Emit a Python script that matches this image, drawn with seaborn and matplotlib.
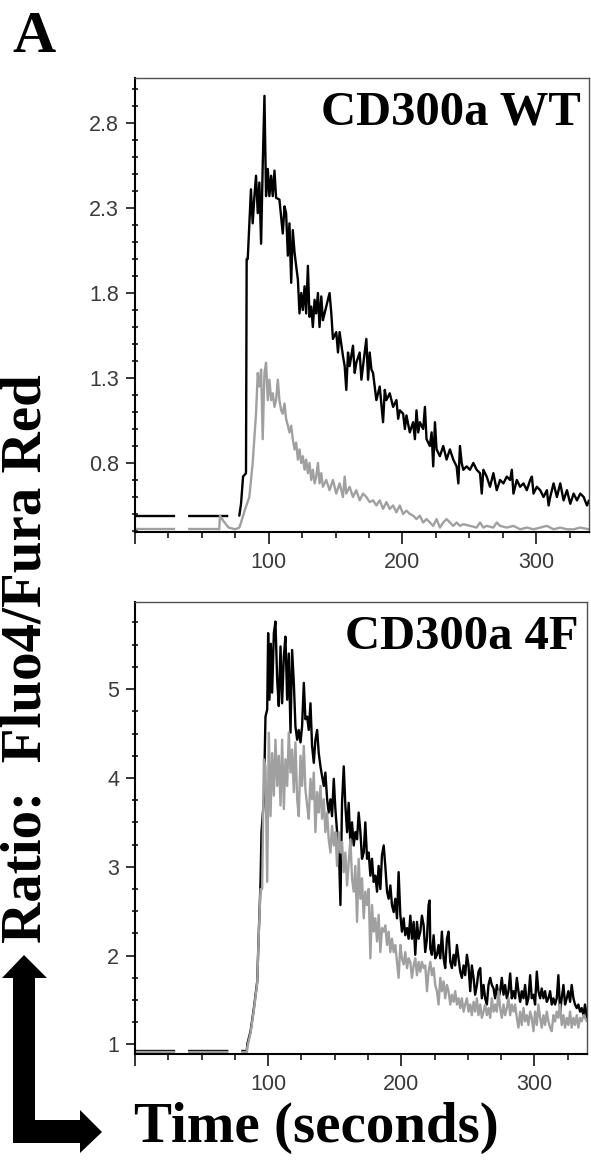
import matplotlib
matplotlib.use('Agg')
import matplotlib.pyplot as plt
from matplotlib.patches import Polygon
import pandas as pd
import seaborn as sns

# ---------------- data ----------------
# CD300a WT: black trace
wt_black_base_t = [0, 78]
wt_black_base_r = [0.49, 0.49]
wt_black_t = [78.0, 79.3, 80.8, 83.0, 83.5, 84.3, 85.5, 86.7, 88.0, 89.3, 90.5, 91.8, 93.0, 94.3,
              95.5, 96.8, 98.0, 99.3, 100.5, 101.8, 103.0, 104.3, 105.5, 108.0, 110.5, 111.8,
              113.0, 114.3, 115.5, 116.8, 118.0, 119.3, 120.5, 121.8, 123.0, 124.3, 125.5,
              126.8, 128.0, 129.3, 130.5, 131.8, 133.0, 134.3, 135.5, 136.8, 138.0, 139.3,
              140.5, 143.0, 145.5, 146.8, 148.0, 150.5, 151.8, 153.0, 155.5, 156.8, 158.0,
              159.3, 160.5, 163.0, 164.3, 165.5, 168.0, 169.3, 170.5, 173.0, 174.3, 175.5,
              176.8, 178.0, 180.5, 183.0, 185.5, 186.8, 188.0, 190.5, 193.0, 195.5, 196.8,
              198.0, 200.5, 201.8, 203.0, 205.5, 208.0, 209.3, 210.5, 211.8, 213.0, 215.5,
              216.8, 218.0, 220.5, 221.8, 223.0, 224.3, 225.5, 228.0, 230.5, 233.0, 235.5,
              238.0, 240.5, 241.8, 243.0, 244.3, 245.5, 248.0, 250.5, 253.0, 255.5, 258.0,
              259.3, 260.5, 263.0, 265.5, 268.0, 270.5, 273.0, 275.5, 278.0, 280.5, 281.8,
              283.0, 285.5, 288.0, 290.5, 293.0, 295.5, 296.8, 298.0, 300.5, 303.0, 305.5,
              308.0, 309.3, 310.5, 313.0, 315.5, 318.0, 320.5, 323.0, 325.5, 328.0, 330.5,
              333.0, 335.5, 338.0, 339.5]
wt_black_r = [0.49, 0.56, 0.72, 0.74, 2.00, 2.00, 2.21, 2.41, 2.21, 2.37, 2.49, 2.27, 2.45, 2.09,
              2.55, 2.96, 2.37, 2.53, 2.37, 2.49, 2.37, 2.52, 2.36, 2.35, 2.15, 2.31,
              2.27, 2.02, 2.21, 1.86, 2.17, 2.04, 1.96, 1.88, 1.68, 1.80, 1.70,
              1.84, 1.68, 1.96, 1.66, 1.72, 1.60, 1.76, 1.68, 1.80, 1.60, 1.78,
              1.64, 1.72, 1.80, 1.68, 1.53, 1.57, 1.45, 1.57, 1.43, 1.37, 1.23,
              1.45, 1.37, 1.49, 1.33, 1.39, 1.45, 1.29, 1.37, 1.53, 1.29, 1.45,
              1.35, 1.33, 1.17, 1.25, 1.04, 1.23, 1.17, 1.21, 1.13, 1.17, 1.06,
              1.11, 1.09, 1.00, 1.08, 0.98, 1.04, 0.94, 1.11, 0.98, 1.04, 1.00,
              1.13, 0.94, 0.90, 0.98, 0.78, 1.04, 0.88, 0.84, 0.90, 0.82, 0.88,
              0.82, 0.78, 0.68, 0.90, 0.80, 0.76, 0.78, 0.76, 0.80, 0.76, 0.74,
              0.62, 0.76, 0.72, 0.66, 0.74, 0.64, 0.70, 0.68, 0.72, 0.70, 0.76,
              0.62, 0.70, 0.66, 0.68, 0.64, 0.70, 0.72, 0.62, 0.66, 0.64, 0.60,
              0.64, 0.55, 0.60, 0.68, 0.60, 0.68, 0.58, 0.64, 0.56, 0.62, 0.58,
              0.62, 0.60, 0.55, 0.58]

# CD300a WT: grey trace
wt_grey_base_t = [0, 63]
wt_grey_base_r = [0.41, 0.41]
wt_grey_t = [63.0, 63.5, 66.0, 70.0, 75.0, 78.0, 79.3, 82.0, 85.5, 88.0, 90.5, 91.8, 93.0, 94.3,
             95.5, 96.8, 98.0, 99.3, 100.5, 101.8, 103.0, 104.3, 105.5, 106.8, 108.0, 109.3,
             110.5, 111.8, 113.0, 114.3, 115.5, 116.8, 118.0, 119.3, 120.5, 121.8, 123.0,
             124.3, 125.5, 126.8, 128.0, 129.3, 130.5, 131.8, 133.0, 134.3, 135.5, 136.8,
             138.0, 139.3, 140.5, 143.0, 145.5, 148.0, 150.5, 153.0, 155.5, 156.8, 158.0,
             160.5, 163.0, 165.5, 168.0, 170.5, 173.0, 175.5, 178.0, 180.5, 183.0, 185.5,
             188.0, 190.5, 193.0, 195.5, 198.0, 200.5, 203.0, 205.5, 208.0, 210.5, 213.0,
             215.5, 218.0, 220.5, 223.0, 225.5, 228.0, 230.5, 233.0, 235.5, 238.0, 240.5,
             243.0, 245.5, 250.5, 255.5, 258.0, 260.5, 263.0, 268.0, 270.5, 273.0, 278.0,
             283.0, 288.0, 293.0, 298.0, 303.0, 308.0, 313.0, 318.0, 323.0, 328.0, 333.0,
             339.5]
wt_grey_r = [0.41, 0.49, 0.46, 0.42, 0.41, 0.42, 0.45, 0.52, 0.60, 0.80, 1.09, 1.33, 1.25, 1.35,
             0.94, 1.33, 1.39, 1.17, 1.29, 1.17, 1.21, 1.13, 1.17, 1.29, 1.17, 1.11,
             1.09, 1.15, 1.06, 1.02, 0.98, 1.02, 0.94, 0.88, 0.92, 0.82, 0.88,
             0.80, 0.84, 0.76, 0.82, 0.74, 0.80, 0.70, 0.76, 0.68, 0.72, 0.80,
             0.68, 0.74, 0.66, 0.70, 0.64, 0.70, 0.62, 0.68, 0.60, 0.72, 0.62,
             0.66, 0.60, 0.64, 0.58, 0.62, 0.60, 0.57, 0.58, 0.55, 0.58, 0.53,
             0.57, 0.53, 0.55, 0.51, 0.55, 0.50, 0.52, 0.50, 0.49, 0.47, 0.49,
             0.45, 0.47, 0.45, 0.43, 0.47, 0.42, 0.45, 0.47, 0.45, 0.43, 0.45,
             0.43, 0.44, 0.43, 0.42, 0.45, 0.42, 0.43, 0.42, 0.45, 0.43, 0.42,
             0.43, 0.41, 0.42, 0.41, 0.42, 0.43, 0.41, 0.42, 0.41, 0.41, 0.42,
             0.41]

# CD300a 4F: black trace
f4_black_base_t = [0, 84]
f4_black_base_r = [0.93, 0.93]
f4_black_t = [84.0, 84.3, 86.8, 89.3, 91.8, 93.0, 94.3, 95.0, 96.8, 98.0, 99.3, 100.0, 101.0,
              102.0, 103.0, 104.3, 105.5, 106.8, 108.0, 109.3, 110.5, 111.8, 113.0, 114.3,
              115.5, 116.8, 118.0, 119.3, 120.5, 121.8, 123.0, 124.3, 125.5, 126.8, 128.0,
              129.3, 130.5, 131.8, 133.0, 134.3, 135.5, 136.8, 138.0, 139.3, 140.5, 141.8,
              143.0, 144.3, 145.5, 146.8, 148.0, 149.3, 150.5, 151.8, 153.0, 154.3, 155.5,
              156.8, 158.0, 159.3, 160.5, 161.8, 163.0, 164.3, 165.5, 166.8, 168.0, 169.3,
              170.5, 171.8, 173.0, 174.3, 175.5, 176.8, 178.0, 179.3, 180.5, 181.8, 183.0,
              184.3, 185.5, 186.8, 188.0, 189.3, 190.5, 191.8, 193.0, 194.3, 195.5, 196.8,
              198.0, 199.3, 200.5, 201.8, 203.0, 204.3, 205.5, 206.8, 208.0, 209.3, 210.5,
              211.8, 213.0, 214.3, 215.5, 216.8, 218.0, 219.3, 220.5, 221.3, 221.8, 223.0,
              224.3, 225.5, 226.8, 228.0, 229.3, 230.5, 231.8, 233.0, 234.3, 235.5, 236.8,
              238.0, 239.3, 240.5, 241.8, 243.0, 244.3, 245.5, 246.8, 248.0, 249.3, 250.5,
              251.8, 253.0, 254.3, 255.5, 256.8, 258.0, 259.3, 260.5, 261.8, 263.0, 264.3,
              265.5, 266.8, 268.0, 269.3, 270.5, 271.8, 273.0, 274.3, 275.5, 276.8, 278.0,
              279.3, 280.5, 281.8, 283.0, 284.3, 285.5, 286.8, 288.0, 289.3, 290.5, 291.8,
              293.0, 294.3, 295.5, 296.8, 298.0, 299.3, 300.5, 301.8, 303.0, 304.3, 305.5,
              306.8, 308.0, 309.3, 310.5, 311.8, 313.0, 314.3, 315.5, 316.8, 318.0, 319.3,
              320.5, 321.8, 323.0, 324.3, 325.5, 326.8, 328.0, 329.3, 330.5, 331.8, 333.0,
              334.3, 335.5, 336.8, 338.0, 339.5]
f4_black_r = [0.93, 1.00, 1.15, 1.41, 1.71, 2.27, 2.83, 3.39, 3.76, 4.69, 4.77, 5.63, 4.88,
              5.51, 4.96, 5.63, 5.76, 5.10, 4.81, 5.48, 4.84, 5.37, 5.59, 4.88,
              5.40, 4.51, 5.44, 5.07, 4.58, 4.43, 4.54, 4.40, 4.58, 5.07, 4.66,
              4.69, 4.54, 4.84, 4.36, 4.17, 4.43, 4.54, 4.28, 4.13, 4.02, 3.91,
              4.06, 3.76, 3.61, 3.76, 3.57, 3.99, 3.65, 3.39, 3.28, 2.57, 3.72,
              4.13, 3.69, 3.39, 3.72, 3.24, 3.50, 3.24, 3.39, 3.31, 3.61, 3.39,
              3.09, 3.16, 3.50, 3.09, 3.16, 2.90, 3.09, 2.83, 2.90, 2.72, 3.01,
              2.75, 3.13, 3.24, 3.01, 2.72, 2.64, 2.79, 2.57, 2.49, 2.64, 2.42,
              2.94, 2.46, 2.27, 2.42, 2.23, 2.31, 2.19, 2.45, 2.19, 2.38, 2.01,
              2.38, 2.19, 2.27, 2.45, 2.34, 2.04, 2.19, 2.57, 2.62, 2.08, 2.01,
              2.23, 1.97, 2.01, 2.12, 1.97, 2.27, 1.97, 1.86, 2.19, 2.27, 1.93,
              1.86, 2.01, 1.89, 2.12, 1.97, 1.82, 1.75, 1.89, 1.78, 2.01, 1.89,
              1.60, 1.89, 1.75, 1.56, 1.67, 1.82, 1.86, 1.52, 1.67, 1.52, 1.45,
              1.67, 1.75, 1.67, 1.63, 1.52, 1.67, 1.52, 1.60, 1.75, 1.56, 1.67,
              1.52, 1.60, 1.80, 1.52, 1.60, 1.52, 1.75, 1.60, 1.48, 1.60, 1.52,
              1.67, 1.45, 1.52, 1.78, 1.52, 1.56, 1.45, 1.82, 1.60, 1.52, 1.63,
              1.52, 1.60, 1.48, 1.52, 1.60, 1.45, 1.52, 1.45, 1.52, 1.78, 1.37,
              1.52, 1.67, 1.45, 1.52, 1.60, 1.48, 1.67, 1.52, 1.45, 1.41, 1.45,
              1.37, 1.41, 1.33, 1.45, 1.30]

# CD300a 4F: grey trace
f4_grey_base_t = [0, 84]
f4_grey_base_r = [0.91, 0.91]
f4_grey_t = [84.0, 84.3, 86.8, 89.3, 91.8, 93.0, 94.3, 95.5, 96.8, 98.0, 99.3, 100.5, 101.8,
             103.0, 104.3, 105.5, 106.8, 108.0, 109.3, 110.5, 111.8, 113.0, 114.3, 115.5,
             116.8, 118.0, 119.3, 120.5, 121.8, 123.0, 124.3, 125.5, 126.8, 128.0, 129.3,
             130.5, 131.8, 133.0, 134.3, 135.5, 136.8, 138.0, 139.3, 140.5, 141.8, 143.0,
             144.3, 145.5, 146.8, 148.0, 149.3, 150.5, 151.8, 153.0, 154.3, 155.5, 156.8,
             158.0, 159.3, 160.5, 161.8, 163.0, 164.3, 165.5, 166.8, 168.0, 169.3, 170.5,
             171.8, 173.0, 174.3, 175.5, 176.8, 178.0, 179.3, 180.5, 181.8, 183.0, 184.3,
             185.5, 186.8, 188.0, 189.3, 190.5, 191.8, 193.0, 194.3, 195.5, 196.8, 198.0,
             199.3, 200.5, 201.8, 203.0, 204.3, 205.5, 206.8, 208.0, 209.3, 210.5, 211.8,
             213.0, 214.3, 215.5, 216.8, 218.0, 219.3, 220.5, 221.8, 223.0, 224.3, 225.5,
             226.8, 228.0, 229.3, 230.5, 231.8, 233.0, 234.3, 235.5, 236.8, 238.0, 239.3,
             240.5, 241.8, 243.0, 244.3, 245.5, 246.8, 248.0, 249.3, 250.5, 251.8, 253.0,
             254.3, 255.5, 256.8, 258.0, 259.3, 260.5, 261.8, 263.0, 264.3, 265.5, 266.8,
             268.0, 269.3, 270.5, 271.8, 273.0, 274.3, 275.5, 276.8, 278.0, 279.3, 280.5,
             281.8, 283.0, 284.3, 285.5, 286.8, 288.0, 289.3, 290.5, 291.8, 293.0, 294.3,
             295.5, 296.8, 298.0, 299.3, 300.5, 301.8, 303.0, 304.3, 305.5, 306.8, 308.0,
             309.3, 310.5, 311.8, 313.0, 314.3, 315.5, 316.8, 318.0, 319.3, 320.5, 321.8,
             323.0, 324.3, 325.5, 326.8, 328.0, 329.3, 330.5, 331.8, 333.0, 334.3, 335.5,
             336.8, 338.0, 339.5]
f4_grey_r = [0.91, 0.97, 1.13, 1.39, 1.69, 2.25, 2.75, 2.75, 4.21, 4.13, 2.83, 4.51, 3.57,
             4.28, 3.80, 4.43, 3.91, 4.25, 3.69, 4.43, 3.65, 4.21, 3.91, 4.51,
             4.06, 4.32, 3.84, 4.40, 3.76, 3.57, 4.25, 3.91, 4.36, 3.87, 3.69,
             3.54, 3.99, 3.76, 4.06, 3.39, 3.84, 3.61, 3.91, 3.54, 3.76, 3.39,
             3.61, 3.31, 3.16, 3.46, 3.24, 3.39, 3.01, 3.39, 3.16, 3.28, 2.94,
             3.16, 2.79, 3.05, 3.31, 2.87, 2.72, 3.01, 2.38, 3.09, 2.64, 2.87,
             2.42, 2.72, 2.57, 2.75, 1.97, 2.57, 2.27, 2.42, 2.16, 2.46, 2.04,
             2.31, 2.27, 2.34, 2.12, 2.27, 2.04, 2.19, 2.04, 2.12, 1.93, 1.75,
             2.12, 1.97, 1.90, 2.04, 1.86, 1.97, 1.93, 1.75, 1.89, 1.97, 1.78,
             1.93, 1.82, 1.93, 1.86, 1.89, 1.60, 1.82, 1.93, 1.78, 1.86, 1.67,
             1.60, 1.45, 1.75, 1.60, 1.71, 1.52, 1.67, 1.60, 1.45, 1.56, 1.48,
             1.60, 1.45, 1.52, 1.41, 1.52, 1.37, 1.45, 1.52, 1.37, 1.45, 1.33,
             1.48, 1.37, 1.52, 1.33, 1.45, 1.30, 1.37, 1.45, 1.33, 1.41, 1.30,
             1.52, 1.37, 1.45, 1.37, 1.60, 1.41, 1.30, 1.45, 1.33, 1.41, 1.52,
             1.33, 1.45, 1.37, 1.45, 1.30, 1.19, 1.37, 1.22, 1.41, 1.26, 1.33,
             1.22, 1.37, 1.30, 1.15, 1.37, 1.22, 1.45, 1.30, 1.19, 1.33, 1.22,
             1.37, 1.26, 1.19, 1.15, 1.33, 1.26, 1.37, 1.30, 1.45, 1.22, 1.33,
             1.19, 1.30, 1.22, 1.37, 1.19, 1.30, 1.22, 1.33, 1.19, 1.30, 1.26,
             1.33, 1.30, 1.26]

panel_titles = ['CD300a WT', 'CD300a 4F']
wt_yticks = [0.8, 1.3, 1.8, 2.3, 2.8]
f4_yticks = [1, 2, 3, 4, 5]
x_ticks = [0, 100, 200, 300]
x_ticklabels = ['', '100', '200', '300']
panel_letter = 'A'
y_label = 'Ratio:  Fluo4/Fura Red'
x_label = 'Time (seconds)'


def long_table(base_t, base_r, t, r, trace):
    pre = pd.DataFrame({'time': base_t, 'ratio': base_r, 'segment': 'baseline'})
    post = pd.DataFrame({'time': t, 'ratio': r, 'segment': 'trace'})
    df = pd.concat([pre, post], ignore_index=True)
    df['trace'] = trace
    return df


df_wt = pd.concat([
    long_table(wt_black_base_t, wt_black_base_r, wt_black_t, wt_black_r, 'black'),
    long_table(wt_grey_base_t, wt_grey_base_r, wt_grey_t, wt_grey_r, 'grey'),
], ignore_index=True)
df_f4 = pd.concat([
    long_table(f4_black_base_t, f4_black_base_r, f4_black_t, f4_black_r, 'black'),
    long_table(f4_grey_base_t, f4_grey_base_r, f4_grey_t, f4_grey_r, 'grey'),
], ignore_index=True)

sns.set_style('white')
plt.rcParams['font.family'] = ['Liberation Sans', 'DejaVu Sans']
plt.rcParams['text.color'] = 'black'

W, H = 591, 1165
fig = plt.figure(figsize=(W / 100, H / 100), dpi=100)
ax1 = fig.add_axes([135 / W, 1 - 532 / H, 454 / W, 454 / H])
ax2 = fig.add_axes([135 / W, 1 - 1054 / H, 452 / W, 452 / H])

palette = {'black': '#000000', 'grey': '#a0a0a0'}
dashes = {'baseline': (17, 5.5), 'trace': ''}

setup = [
    (ax1, df_wt, (0.394, 3.065), wt_yticks, 0.1, panel_titles[0]),
    (ax2, df_f4, (0.893, 5.98), f4_yticks, 0.25, panel_titles[1]),
]

for ax, df, ylim, yticks, ystep, title in setup:
    sns.lineplot(data=df, x='time', y='ratio', hue='trace', style='segment',
                 hue_order=['black', 'grey'], palette=palette, dashes=dashes,
                 estimator=None, lw=1.7, legend=False, ax=ax)
    ax.set_xlim(0, 339.5)
    ax.set_ylim(*ylim)
    ax.set_xlabel('')
    ax.set_ylabel('')

    ax.set_xticks(x_ticks)
    ax.set_xticklabels(x_ticklabels)
    ax.set_xticks([v for v in range(25, 340, 25) if v % 100], minor=True)
    ax.set_yticks(yticks)
    ax.set_yticklabels([f'{v:g}' for v in yticks])
    lo = round(ylim[0] / ystep + 0.5) * ystep
    minors = []
    v = lo
    while v < ylim[1]:
        if min(abs(v - m) for m in yticks) > 1e-6:
            minors.append(round(v, 3))
        v += ystep
    ax.set_yticks(minors, minor=True)

    ax.tick_params(axis='x', which='major', direction='out', length=8.5, width=1.1,
                   color='black', pad=6, labelsize=15.5, labelcolor='#3a3a3a')
    ax.tick_params(axis='x', which='minor', direction='out', length=4.3, width=1.1,
                   color='black')
    ax.tick_params(axis='y', which='major', direction='out', length=6.5, width=1.1,
                   color='black', pad=5, labelsize=15.5, labelcolor='#3a3a3a')
    ax.tick_params(axis='y', which='minor', direction='inout', length=4.5, width=1.1,
                   color='black')
    ax.tick_params(bottom=True, left=True, which='both')

    for side in ['left', 'bottom']:
        ax.spines[side].set_color('black')
        ax.spines[side].set_linewidth(1.5)
    for side in ['top', 'right']:
        ax.spines[side].set_color('#505050')
        ax.spines[side].set_linewidth(1.0)

    ax.text(0.981, 0.897, title, transform=ax.transAxes, ha='right', va='baseline',
            fontsize=35, fontweight='bold', family='Liberation Serif', color='black')

# panel letter, shared axis titles and the L-shaped arrow
fig.text(12 / W, 1 - 11 / H, panel_letter, ha='left', va='top', fontsize=43,
         fontweight='bold', family='Liberation Serif', color='black')
fig.text(27 / W, 1 - 659 / H, y_label, rotation=90, ha='center', va='center',
         fontsize=41, fontweight='bold', family='Liberation Serif', color='black')
fig.text(316 / W, 1 - 1142 / H, x_label, ha='center', va='baseline', fontsize=41,
         fontweight='bold', family='Liberation Serif', color='black')

arrow_px = [(24, 955), (47, 978), (35, 978), (35, 1120), (80, 1120), (80, 1110),
            (102, 1132), (80, 1153), (80, 1143), (13, 1143), (13, 978), (2, 978)]
fig.patches.append(Polygon([(x / W, 1 - y / H) for x, y in arrow_px], closed=True,
                           facecolor='black', edgecolor='none',
                           transform=fig.transFigure, figure=fig))

fig.savefig('out.png', dpi=100, facecolor='white')
